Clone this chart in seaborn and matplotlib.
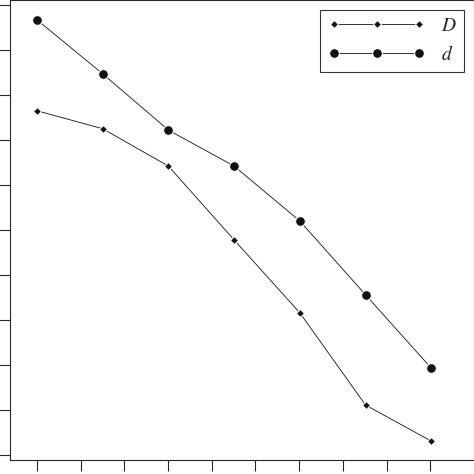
import matplotlib
matplotlib.use("Agg")
import matplotlib.pyplot as plt
import seaborn as sns
import pandas as pd

x = [1, 2, 3, 4, 5, 6, 7]
D = [7.76, 7.36, 6.53, 4.89, 3.27, 1.22, 0.42]
d = [9.78, 8.58, 7.33, 6.53, 5.31, 3.67, 2.04]

sns.set_style("ticks")
plt.rcParams['font.family'] = ['Liberation Serif', 'DejaVu Serif']
plt.rcParams['mathtext.fontset'] = 'stix'

fig = plt.figure(figsize=(4.74, 4.74), dpi=100)
ax = fig.add_axes([10/474, 14/474, 464/474, 460/474])

df = pd.DataFrame({'x': x * 2, 'y': D + d, 's': ['D'] * 7 + ['d'] * 7})
sns.lineplot(data=df, x='x', y='y', hue='s', style='s',
             palette={'D': '#111111', 'd': '#111111'},
             markers={'D': 'D', 'd': 'o'}, dashes=False,
             linewidth=0.6, ax=ax)
for line, ms in zip(ax.lines[:2], [4, 7]):
    line.set_markersize(ms)

ax.set_xlim(0.59, 7.65)
ax.set_ylim(0, 10.22)
ax.set_xticks([1 + 0.665 * i for i in range(10)])
ax.set_yticks([0.11 + 1.0 * i for i in range(11)])
ax.tick_params(labelbottom=False, labelleft=False, length=8, width=0.8)
ax.set_xlabel('')
ax.set_ylabel('')
for s in ax.spines.values():
    s.set_linewidth(0.8)

h, l = ax.get_legend_handles_labels()
leg = ax.legend(h, ['$D$', '$d$'], loc='upper right', bbox_to_anchor=(1.0, 1.0),
                fancybox=False, edgecolor='black', fontsize=14, handlelength=5,
                numpoints=3, borderpad=0.4, labelspacing=0.5, handletextpad=0.8)
leg.get_frame().set_linewidth(0.8)
for lh, ms in zip(leg.get_lines(), [4, 7]):
    lh.set_markersize(ms)

fig.savefig('out.png', dpi=100)
